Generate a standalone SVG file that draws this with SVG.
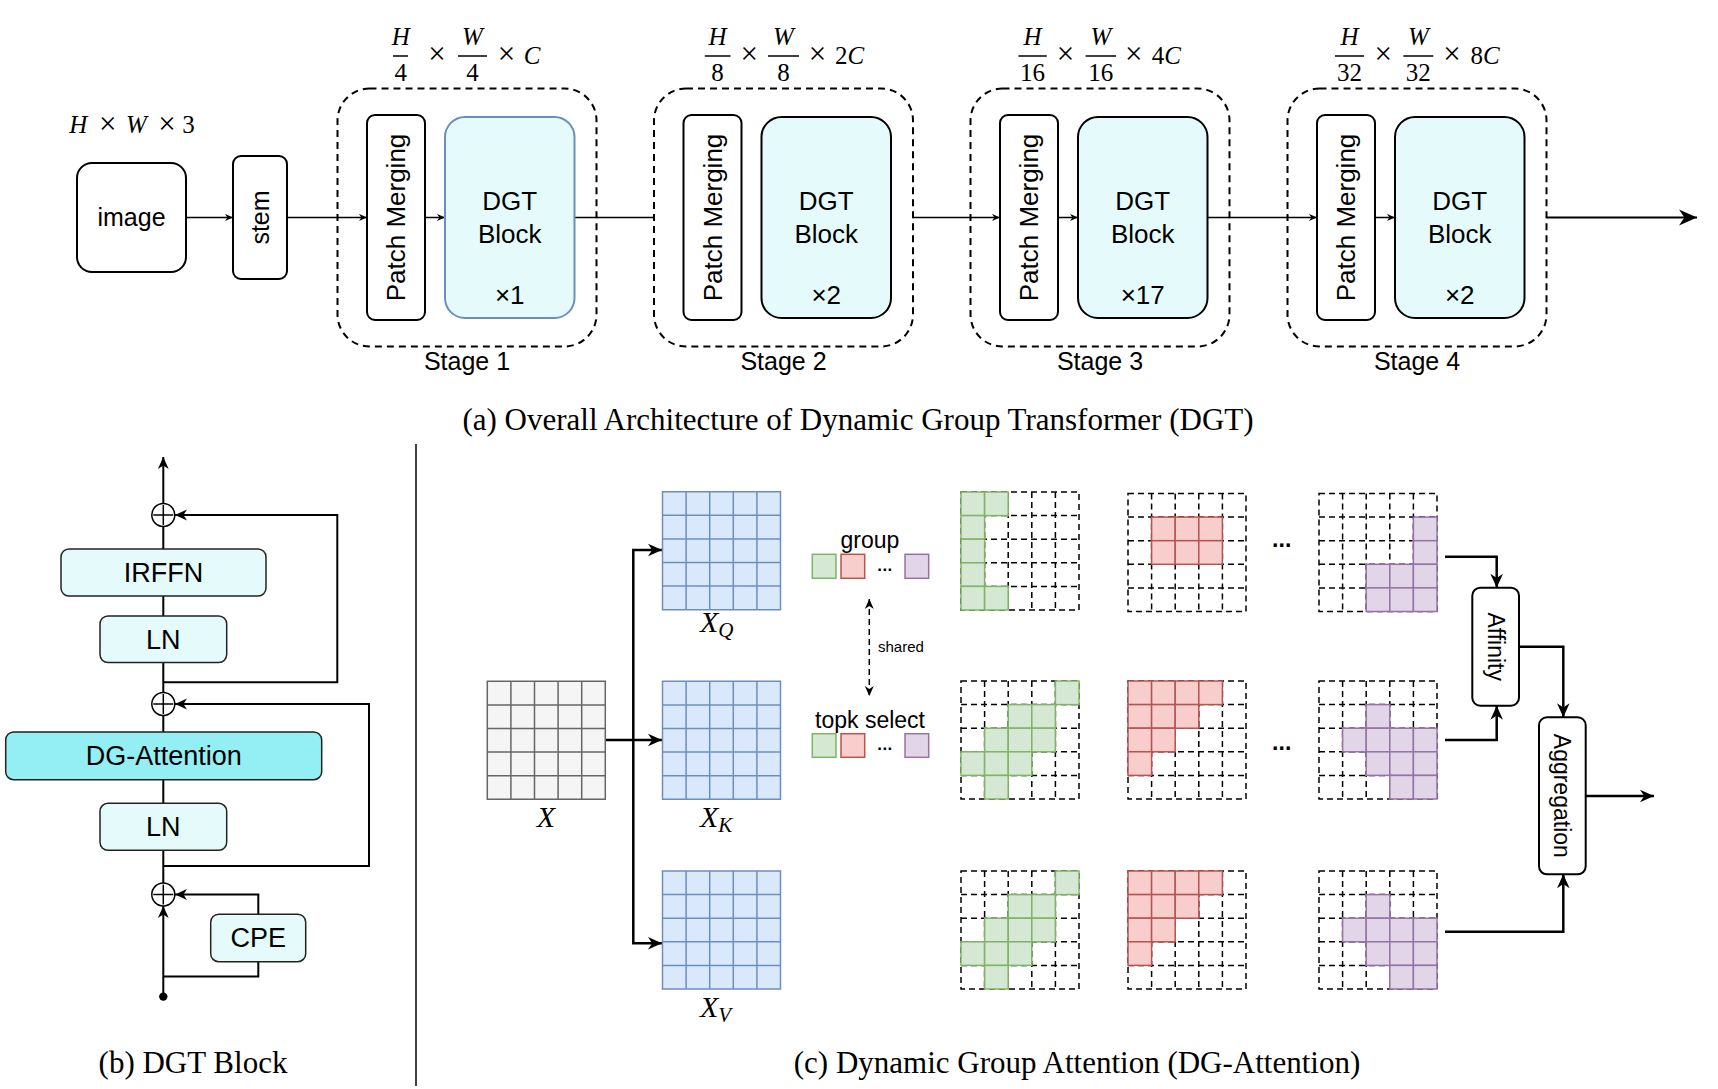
<svg xmlns="http://www.w3.org/2000/svg" xmlns:xlink="http://www.w3.org/1999/xlink" width="1718" height="1089" viewBox="0 0 1718 1089">
<style>
 .sans{font-family:"Liberation Sans",Arial,sans-serif;fill:#000}
 .serif{font-family:"Liberation Serif","Times New Roman",serif;fill:#000}
 .it{font-style:italic}
 .f25{font-size:25px}
 .f26{font-size:26px}
 .f23{font-size:23px}
 .f27{font-size:27px}
 .m{font-family:"Liberation Serif","Times New Roman",serif;font-size:25px;fill:#000;text-anchor:middle}
 .x{font-size:31px}
 .box{fill:#fff;stroke:#000;stroke-width:2}
 .dgt{fill:#e5fbfb;stroke:#000;stroke-width:2}
 .cy{fill:#e5fbfb;stroke:#222;stroke-width:1.5}
 .stage{fill:none;stroke:#000;stroke-width:2;stroke-dasharray:7 5}
 .ln{fill:none;stroke:#000;stroke-width:1.5}
 .lb{fill:none;stroke:#000;stroke-width:2}
 .thick{fill:none;stroke:#000;stroke-width:2.5}
 .bl{fill:#dae8fc;stroke:#6c8ebf;stroke-width:1.5}
 .gy{fill:#f5f5f5;stroke:#666;stroke-width:1.5}
 .g{fill:#d5e8d4;stroke:#82b366;stroke-width:1.5}
 .r{fill:#f8cecc;stroke:#b85450;stroke-width:1.5}
 .p{fill:#e1d5e7;stroke:#9673a6;stroke-width:1.5}
 .dash{fill:none;stroke:#000;stroke-width:1.5;stroke-dasharray:6 4}
 .mid{text-anchor:middle}
 .dots{font-family:"Liberation Sans",Arial,sans-serif;font-size:23px;font-weight:bold;text-anchor:middle}
 .sdots{font-family:"Liberation Sans",Arial,sans-serif;font-size:17px;font-weight:bold;text-anchor:middle;letter-spacing:0.5px}
</style>
<defs>
 <marker id="as" viewBox="0 0 10 10" refX="10" refY="5" markerWidth="9" markerHeight="8" markerUnits="userSpaceOnUse" orient="auto"><path d="M0,0.5 L10,5 L0,9.5 L3,5z"/></marker>
 <marker id="ab" viewBox="0 0 10 10" refX="10" refY="5" markerWidth="19" markerHeight="18" markerUnits="userSpaceOnUse" orient="auto"><path d="M0,0.5 L10,5 L0,9.5 L3,5z"/></marker>
 <marker id="ac" viewBox="0 0 10 10" refX="10" refY="5" markerWidth="15" markerHeight="14" markerUnits="userSpaceOnUse" orient="auto"><path d="M0,0.5 L10,5 L0,9.5 L3,5z"/></marker>
 <marker id="am" viewBox="0 0 10 10" refX="10" refY="5" markerWidth="13" markerHeight="12" markerUnits="userSpaceOnUse" orient="auto"><path d="M0,0.5 L10,5 L0,9.5 L3,5z"/></marker>
 <marker id="ad" viewBox="0 0 10 10" refX="10" refY="5" markerWidth="10" markerHeight="10" markerUnits="userSpaceOnUse" orient="auto-start-reverse"><path d="M0,0.5 L10,5 L0,9.5 L3,5z"/></marker>
 <path id="grid" d="M0,0H118V118H0Z M23.6,0V118 M47.2,0V118 M70.8,0V118 M94.4,0V118 M0,23.6H118 M0,47.2H118 M0,70.8H118 M0,94.4H118"/>
 <g id="gm" class="g">
  <rect x="94.4" y="0" width="23.6" height="23.6"/>
  <rect x="47.2" y="23.6" width="23.6" height="23.6"/><rect x="70.8" y="23.6" width="23.6" height="23.6"/>
  <rect x="23.6" y="47.2" width="23.6" height="23.6"/><rect x="47.2" y="47.2" width="23.6" height="23.6"/><rect x="70.8" y="47.2" width="23.6" height="23.6"/>
  <rect x="0" y="70.8" width="23.6" height="23.6"/><rect x="23.6" y="70.8" width="23.6" height="23.6"/><rect x="47.2" y="70.8" width="23.6" height="23.6"/>
  <rect x="23.6" y="94.4" width="23.6" height="23.6"/>
 </g>
 <g id="rm" class="r">
  <rect x="0" y="0" width="23.6" height="23.6"/><rect x="23.6" y="0" width="23.6" height="23.6"/><rect x="47.2" y="0" width="23.6" height="23.6"/><rect x="70.8" y="0" width="23.6" height="23.6"/>
  <rect x="0" y="23.6" width="23.6" height="23.6"/><rect x="23.6" y="23.6" width="23.6" height="23.6"/><rect x="47.2" y="23.6" width="23.6" height="23.6"/>
  <rect x="0" y="47.2" width="23.6" height="23.6"/><rect x="23.6" y="47.2" width="23.6" height="23.6"/>
  <rect x="0" y="70.8" width="23.6" height="23.6"/>
 </g>
 <g id="pmid" class="p">
  <rect x="47.2" y="23.6" width="23.6" height="23.6"/>
  <rect x="23.6" y="47.2" width="23.6" height="23.6"/><rect x="47.2" y="47.2" width="23.6" height="23.6"/><rect x="70.8" y="47.2" width="23.6" height="23.6"/><rect x="94.4" y="47.2" width="23.6" height="23.6"/>
  <rect x="47.2" y="70.8" width="23.6" height="23.6"/><rect x="70.8" y="70.8" width="23.6" height="23.6"/><rect x="94.4" y="70.8" width="23.6" height="23.6"/>
  <rect x="70.8" y="94.4" width="23.6" height="23.6"/><rect x="94.4" y="94.4" width="23.6" height="23.6"/>
 </g>
</defs>
<rect width="1718" height="1089" fill="#fff"/>

<!-- ===== (a) connectors ===== -->
<g id="connectors-a">
 <path class="ln" d="M186,217.5H233" marker-end="url(#as)"/>
 <path class="ln" d="M287,217.5H367" marker-end="url(#as)"/>
 <path class="ln" d="M425,217.5H445" marker-end="url(#as)"/>
 <path class="ln" d="M574.5,217.5H654"/>
 <path class="ln" d="M913,217.5H1000" marker-end="url(#as)"/>
 <path class="ln" d="M1058,217.5H1078" marker-end="url(#as)"/>
 <path class="ln" d="M1207.5,217.5H1317" marker-end="url(#as)"/>
 <path class="ln" d="M1375,217.5H1395" marker-end="url(#as)"/>
 <path class="lb" d="M1546.5,217.5H1697" marker-end="url(#ab)"/>
</g>

<!-- ===== (a) nodes ===== -->
<g id="dims-input">
 <text class="m it" x="78.4" y="133" font-size="26">H</text>
 <text class="m x" x="107.7" y="134">×</text>
 <text class="m it" x="136.5" y="133" font-size="26">W</text>
 <text class="m x" x="167" y="134">×</text>
 <text class="m" x="188.6" y="133" font-size="26">3</text>
</g>
<g id="image">
 <rect class="box" x="77" y="163" width="109" height="109" rx="15"/>
 <text class="sans f25 mid" x="131.5" y="226">image</text>
</g>
<g id="stem">
 <rect class="box" x="233" y="156" width="54" height="123" rx="8"/>
 <text class="sans f25 mid" transform="translate(260,217.5) rotate(-90)" dy="0.35em">stem</text>
</g>

<g id="stage1">
 <rect class="stage" x="337.5" y="88.5" width="259" height="258" rx="32"/>
 <rect class="box" x="367" y="115" width="58" height="205" rx="8"/>
 <text class="sans f26 mid" transform="translate(396,217.5) rotate(-90)" dy="0.35em">Patch Merging</text>
 <rect class="dgt" x="445" y="117" width="129.5" height="201" rx="20" style="stroke:#6c8ebf"/>
 <text class="sans f26 mid" x="509.75" y="209.7">DGT</text>
 <text class="sans f26 mid" x="509.75" y="242.5">Block</text>
 <text class="sans f26 mid" x="509.75" y="304">×1</text>
 <text class="sans f25 mid" x="467" y="370">Stage 1</text>
 <text class="m it" x="400.7" y="45">H</text><path class="ln" d="M393,56H408" stroke-width="1.3"/><text class="m" x="400.7" y="81">4</text>
 <text class="m x" x="437" y="64">×</text>
 <text class="m it" x="472.5" y="45">W</text><path class="ln" d="M458,56H487" stroke-width="1.3"/><text class="m" x="472.5" y="81">4</text>
 <text class="m x" x="506.5" y="64">×</text>
 <text class="m it" x="532" y="64">C</text>
</g>

<g id="stage2">
 <rect class="stage" x="654" y="88.5" width="259" height="258" rx="32"/>
 <rect class="box" x="683.5" y="115" width="58" height="205" rx="8"/>
 <text class="sans f26 mid" transform="translate(712.5,217.5) rotate(-90)" dy="0.35em">Patch Merging</text>
 <rect class="dgt" x="761.5" y="117" width="129.5" height="201" rx="20"/>
 <text class="sans f26 mid" x="826.25" y="209.7">DGT</text>
 <text class="sans f26 mid" x="826.25" y="242.5">Block</text>
 <text class="sans f26 mid" x="826.25" y="304">×2</text>
 <text class="sans f25 mid" x="783.5" y="370">Stage 2</text>
 <text class="m it" x="717.6" y="45">H</text><path class="ln" d="M704.8,56H730.5" stroke-width="1.3"/><text class="m" x="717.6" y="81">8</text>
 <text class="m x" x="749.3" y="64">×</text>
 <text class="m it" x="783.5" y="45">W</text><path class="ln" d="M768,56H799" stroke-width="1.3"/><text class="m" x="783.5" y="81">8</text>
 <text class="m x" x="817.4" y="64">×</text>
 <text class="m" x="849.5" y="64">2<tspan font-style="italic">C</tspan></text>
</g>

<g id="stage3">
 <rect class="stage" x="970.5" y="88.5" width="259" height="258" rx="32"/>
 <rect class="box" x="1000" y="115" width="58" height="205" rx="8"/>
 <text class="sans f26 mid" transform="translate(1029,217.5) rotate(-90)" dy="0.35em">Patch Merging</text>
 <rect class="dgt" x="1078" y="117" width="129.5" height="201" rx="20"/>
 <text class="sans f26 mid" x="1142.75" y="209.7">DGT</text>
 <text class="sans f26 mid" x="1142.75" y="242.5">Block</text>
 <text class="sans f26 mid" x="1142.75" y="304">×17</text>
 <text class="sans f25 mid" x="1100" y="370">Stage 3</text>
 <text class="m it" x="1032.6" y="45">H</text><path class="ln" d="M1018.4,56H1046.8" stroke-width="1.3"/><text class="m" x="1032.6" y="81">16</text>
 <text class="m x" x="1065.6" y="64">×</text>
 <text class="m it" x="1100.8" y="45">W</text><path class="ln" d="M1085.6,56H1116" stroke-width="1.3"/><text class="m" x="1100.8" y="81">16</text>
 <text class="m x" x="1133.8" y="64">×</text>
 <text class="m" x="1166.4" y="64">4<tspan font-style="italic">C</tspan></text>
</g>

<g id="stage4">
 <rect class="stage" x="1287.5" y="88.5" width="259" height="258" rx="32"/>
 <rect class="box" x="1317" y="115" width="58" height="205" rx="8"/>
 <text class="sans f26 mid" transform="translate(1346,217.5) rotate(-90)" dy="0.35em">Patch Merging</text>
 <rect class="dgt" x="1395" y="117" width="129.5" height="201" rx="20"/>
 <text class="sans f26 mid" x="1459.75" y="209.7">DGT</text>
 <text class="sans f26 mid" x="1459.75" y="242.5">Block</text>
 <text class="sans f26 mid" x="1459.75" y="304">×2</text>
 <text class="sans f25 mid" x="1417" y="370">Stage 4</text>
 <text class="m it" x="1349.5" y="45">H</text><path class="ln" d="M1335,56H1364" stroke-width="1.3"/><text class="m" x="1349.5" y="81">32</text>
 <text class="m x" x="1383.3" y="64">×</text>
 <text class="m it" x="1418.3" y="45">W</text><path class="ln" d="M1403.3,56H1433.3" stroke-width="1.3"/><text class="m" x="1418.3" y="81">32</text>
 <text class="m x" x="1452" y="64">×</text>
 <text class="m" x="1485" y="64">8<tspan font-style="italic">C</tspan></text>
</g>

<text id="caption-a" class="serif mid" x="858" y="430" font-size="31">(a) Overall Architecture of Dynamic Group Transformer (DGT)</text>

<!-- separator -->
<path id="separator" d="M416,444V1086" stroke="#000" stroke-width="1.5"/>

<!-- ===== (b) DGT Block ===== -->
<g id="connectors-b">
 <path class="lb" d="M163.3,503.5V457" marker-end="url(#am)"/>
 <path class="lb" d="M163.3,996.6V906" marker-end="url(#am)"/>
 <path class="lb" d="M163.3,883V526.5"/>
 <path class="lb" d="M163.3,682.2H337.3V515H175" marker-end="url(#am)"/>
 <path class="lb" d="M163.3,866H369V704H175" marker-end="url(#am)"/>
 <path class="lb" d="M163.3,976.5H258.3V961.7"/>
 <path class="lb" d="M258.3,914.2V894.5H175" marker-end="url(#am)"/>
</g>
<g id="add1"><circle cx="163.3" cy="515" r="11.5" fill="#fff" stroke="#000" stroke-width="1.5"/><path d="M163.3,505V525M153.3,515H173.3" stroke="#000" stroke-width="1.5"/></g>
<g id="add2"><circle cx="163.3" cy="704" r="11.5" fill="#fff" stroke="#000" stroke-width="1.5"/><path d="M163.3,694V714M153.3,704H173.3" stroke="#000" stroke-width="1.5"/></g>
<g id="add3"><circle cx="163.3" cy="894.5" r="11.5" fill="#fff" stroke="#000" stroke-width="1.5"/><path d="M163.3,884.5V904.5M153.3,894.5H173.3" stroke="#000" stroke-width="1.5"/></g>
<g id="irffn"><rect class="cy" x="61" y="549" width="205" height="47" rx="8"/><text class="sans f27 mid" x="163.5" y="572.5" dy="0.35em">IRFFN</text></g>
<g id="ln1"><rect class="cy" x="100" y="616" width="126.7" height="46.5" rx="8"/><text class="sans f27 mid" x="163.3" y="639.2" dy="0.35em">LN</text></g>
<g id="dg-attention"><rect class="cy" x="5.7" y="732" width="316" height="47.7" rx="8" style="fill:#93eff4"/><text class="sans f27 mid" x="163.7" y="755.8" dy="0.35em">DG-Attention</text></g>
<g id="ln2"><rect class="cy" x="100" y="803.3" width="126.7" height="47" rx="8"/><text class="sans f27 mid" x="163.3" y="826.8" dy="0.35em">LN</text></g>
<g id="cpe"><rect class="cy" x="210.7" y="914.2" width="95" height="47.5" rx="8"/><text class="sans f27 mid" x="258.2" y="938" dy="0.35em">CPE</text></g>
<circle id="input-dot" cx="163.3" cy="996.6" r="4.2" fill="#000"/>
<text id="caption-b" class="serif mid" x="193" y="1073" font-size="31">(b) DGT Block</text>

<!-- ===== (c) DG-Attention ===== -->
<g id="connectors-c">
 <path class="thick" d="M605.3,740H662" marker-end="url(#ac)"/>
 <path class="thick" d="M633.3,740V550H662" marker-end="url(#ac)"/>
 <path class="thick" d="M633.3,740V943.3H662" marker-end="url(#ac)"/>
 <path class="dash" d="M869.3,599V696" stroke-width="2" marker-start="url(#ad)" marker-end="url(#ad)"/>
 <path class="thick" d="M1445,556.7H1496.7V587.7" marker-end="url(#ac)"/>
 <path class="thick" d="M1445,740H1496.7V705.7" marker-end="url(#ac)"/>
 <path class="thick" d="M1519,646.7H1563.3V717.3" marker-end="url(#ac)"/>
 <path class="thick" d="M1445,931.7H1563.3V874.3" marker-end="url(#ac)"/>
 <path class="thick" d="M1585.7,796H1654" marker-end="url(#ac)"/>
</g>

<g id="x-input">
 <use xlink:href="#grid" class="gy" x="487.3" y="681.3"/>
 <text class="serif it mid" x="546" y="827" font-size="30">X</text>
</g>
<g id="xq">
 <use xlink:href="#grid" class="bl" x="662.5" y="491.7"/>
 <text class="serif it" x="700" y="632" font-size="30">X<tspan font-size="21" dy="5">Q</tspan></text>
</g>
<g id="xk">
 <use xlink:href="#grid" class="bl" x="662.5" y="681.3"/>
 <text class="serif it" x="700" y="827" font-size="30">X<tspan font-size="21" dy="5">K</tspan></text>
</g>
<g id="xv">
 <use xlink:href="#grid" class="bl" x="662.5" y="871"/>
 <text class="serif it" x="700" y="1017" font-size="30">X<tspan font-size="21" dy="5">V</tspan></text>
</g>

<g id="group-legend">
 <text class="sans f23 mid" x="870" y="548">group</text>
 <rect class="g" x="812.3" y="554.3" width="23.7" height="24"/>
 <rect class="r" x="841" y="554.3" width="23.7" height="24"/>
 <text class="sdots" x="885" y="570.5">...</text>
 <rect class="p" x="905" y="554.3" width="23.7" height="24"/>
</g>
<text id="shared" class="sans" x="878" y="652" font-size="15">shared</text>
<g id="topk-legend">
 <text class="sans f23 mid" x="870" y="728.3">topk select</text>
 <rect class="g" x="812.3" y="733.7" width="23.7" height="23.6"/>
 <rect class="r" x="841" y="733.7" width="23.7" height="23.6"/>
 <text class="sdots" x="885" y="749.5">...</text>
 <rect class="p" x="905" y="733.7" width="23.7" height="23.6"/>
</g>

<!-- query groups (top row) -->
<g id="q-green" transform="translate(961,492)">
 <use xlink:href="#grid" class="dash"/>
 <g class="g">
  <rect x="0" y="0" width="23.6" height="23.6"/><rect x="23.6" y="0" width="23.6" height="23.6"/>
  <rect x="0" y="23.6" width="23.6" height="23.6"/>
  <rect x="0" y="47.2" width="23.6" height="23.6"/>
  <rect x="0" y="70.8" width="23.6" height="23.6"/>
  <rect x="0" y="94.4" width="23.6" height="23.6"/><rect x="23.6" y="94.4" width="23.6" height="23.6"/>
 </g>
</g>
<g id="q-red" transform="translate(1128,493.5)">
 <use xlink:href="#grid" class="dash"/>
 <g class="r">
  <rect x="23.6" y="23.6" width="23.6" height="23.6"/><rect x="47.2" y="23.6" width="23.6" height="23.6"/><rect x="70.8" y="23.6" width="23.6" height="23.6"/>
  <rect x="23.6" y="47.2" width="23.6" height="23.6"/><rect x="47.2" y="47.2" width="23.6" height="23.6"/><rect x="70.8" y="47.2" width="23.6" height="23.6"/>
 </g>
</g>
<text class="dots" x="1281.7" y="547">...</text>
<g id="q-purple" transform="translate(1319,493.5)">
 <use xlink:href="#grid" class="dash"/>
 <g class="p">
  <rect x="94.4" y="23.6" width="23.6" height="23.6"/>
  <rect x="94.4" y="47.2" width="23.6" height="23.6"/>
  <rect x="47.2" y="70.8" width="23.6" height="23.6"/><rect x="70.8" y="70.8" width="23.6" height="23.6"/><rect x="94.4" y="70.8" width="23.6" height="23.6"/>
  <rect x="47.2" y="94.4" width="23.6" height="23.6"/><rect x="70.8" y="94.4" width="23.6" height="23.6"/><rect x="94.4" y="94.4" width="23.6" height="23.6"/>
 </g>
</g>

<!-- key groups (middle row) -->
<g id="k-green" transform="translate(961,681)"><use xlink:href="#grid" class="dash"/><use xlink:href="#gm"/></g>
<g id="k-red" transform="translate(1128,681)"><use xlink:href="#grid" class="dash"/><use xlink:href="#rm"/></g>
<text class="dots" x="1281.7" y="750">...</text>
<g id="k-purple" transform="translate(1319,681)"><use xlink:href="#grid" class="dash"/><use xlink:href="#pmid"/></g>

<!-- value groups (bottom row) -->
<g id="v-green" transform="translate(961,871)"><use xlink:href="#grid" class="dash"/><use xlink:href="#gm"/></g>
<g id="v-red" transform="translate(1128,871)"><use xlink:href="#grid" class="dash"/><use xlink:href="#rm"/></g>
<g id="v-purple" transform="translate(1319,871)"><use xlink:href="#grid" class="dash"/><use xlink:href="#pmid"/></g>

<g id="affinity">
 <rect class="box" x="1472.3" y="587.7" width="46.7" height="118" rx="8" stroke-width="2.5"/>
 <text class="sans f23 mid" transform="translate(1495.7,646.7) rotate(90)" dy="0.35em">Affinity</text>
</g>
<g id="aggregation">
 <rect class="box" x="1539" y="717.3" width="46.7" height="157" rx="8" stroke-width="2.5"/>
 <text class="sans f23 mid" transform="translate(1562.3,795.8) rotate(90)" dy="0.35em">Aggregation</text>
</g>

<text id="caption-c" class="serif mid" x="1077" y="1073" font-size="31">(c) Dynamic Group Attention (DG-Attention)</text>
</svg>
